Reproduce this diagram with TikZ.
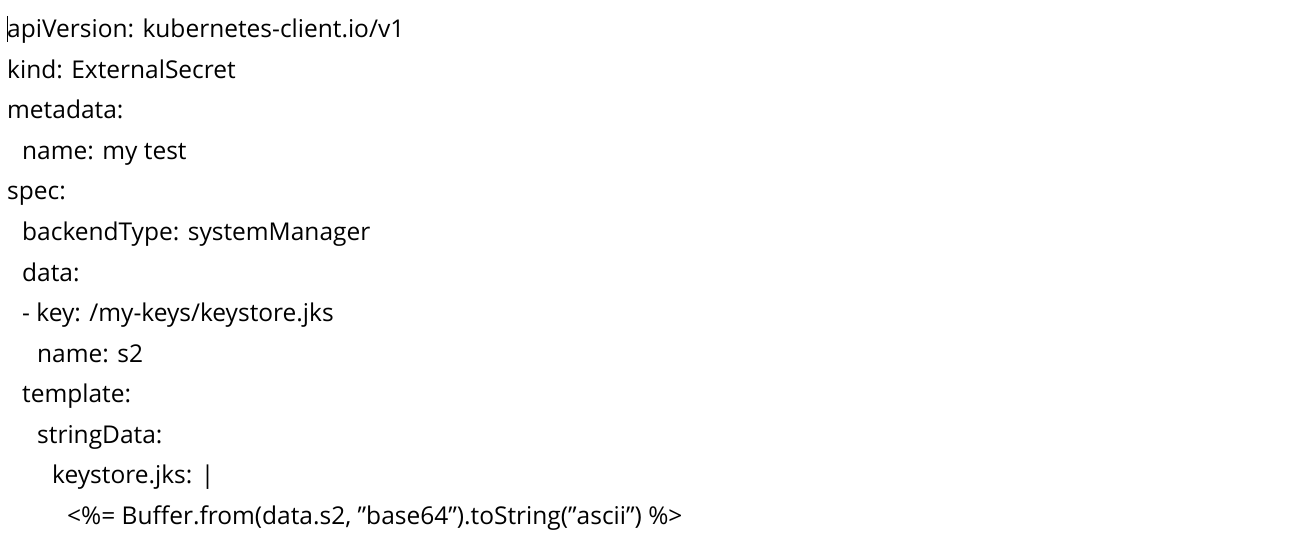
\documentclass[tikz,border=0pt]{standalone}
\usepackage{fontspec}
\setmainfont{Open Sans}
\newcommand{\dq}{\char34 }
\begin{document}
\begin{tikzpicture}[x=1pt,y=-1pt,
  ln/.style={anchor=base west,inner sep=0pt,font=\fontsize{24.5}{28}\selectfont}]
\useasboundingbox[fill=white] (0,0) rectangle (1292,553);
\draw[line width=1pt] (7,16) -- (7,42);
\foreach \t [count=\i from 0] in {
  {apiVersion: kubernetes-client.io/v1},
  {kind: ExternalSecret},
  {metadata:},
  {\hspace*{15pt}name: my test},
  {spec:},
  {\hspace*{15pt}backendType: systemManager},
  {\hspace*{15pt}data:},
  {\hspace*{15pt}- key: /my-keys/keystore.jks},
  {\hspace*{30pt}name: s2},
  {\hspace*{15pt}template:},
  {\hspace*{30pt}stringData:},
  {\hspace*{45pt}keystore.jks: |},
  {\hspace*{60pt}<\%= Buffer.from(data.s2, \dq base64\dq).toString(\dq ascii\dq) \%>}}
  \node[ln] (l\i) at (7,{38+40.5*\i}) {\t};
\end{tikzpicture}
\end{document}
